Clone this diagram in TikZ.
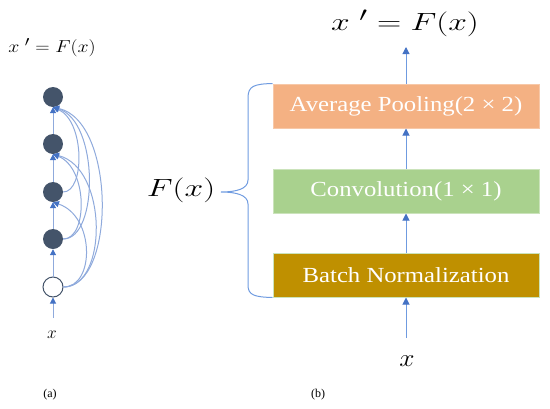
\documentclass[tikz,border=0pt]{standalone}
\usepackage{fontspec}
\setmainfont{Liberation Serif}
\newfontfamily\boxfont[FakeStretch=1.15]{Liberation Serif}
\usetikzlibrary{arrows.meta}
\definecolor{dnode}{HTML}{44546A}
\definecolor{lblue}{HTML}{8FAADC}
\definecolor{ablue}{HTML}{4472C4}
\definecolor{rblue}{HTML}{6F9BE0}
\definecolor{apool}{HTML}{F4B183}
\definecolor{conv}{HTML}{A9D18E}
\definecolor{bnorm}{HTML}{BF9000}
\tikzset{
  dense/.style={circle,minimum size=20pt,inner sep=0pt},
  filled/.style={dense,fill=dnode},
  hollow/.style={dense,draw=dnode,line width=1pt,fill=white},
  link/.style={draw=lblue,line width=1pt,-{Triangle[length=6pt,width=6pt,color=ablue]}},
  rlink/.style={draw=rblue,line width=1pt,-{Triangle[length=7pt,width=7pt,color=ablue]}},
  layer/.style={minimum width=266pt,minimum height=44pt,inner sep=0pt,text=white,font=\boxfont\fontsize{21.5}{24}\selectfont,line width=1pt},
}
\begin{document}
\begin{tikzpicture}[x=1pt,y=-1pt]
\useasboundingbox (0,0) rectangle (550,408);
% left: dense block
\node (lt) at (52,48) {\fontsize{19}{22}\selectfont\scalebox{1.15}[1]{$x\ {}' = F(x)$}};
\node[hollow] (n0) at (53,287) {};
\node[filled] (n1) at (53,239) {};
\node[filled] (n2) at (53,192) {};
\node[filled] (n3) at (53,144) {};
\node[filled] (n4) at (53,97) {};
\coordinate (lin) at (53,318);
\node (lx) at (52,335) {\fontsize{17}{20}\selectfont$x$};
\draw[link] (lin) -- (n0.south);
\draw[link] (n0.north) -- (n1.south);
\draw[link] (n1.north) -- (n2.south);
\draw[link] (n2.north) -- (n3.south);
\draw[link] (n3.north) -- (n4.south);
\draw[link] (n0.east) .. controls (116,287) and (116,121) .. (n4.south);
\draw[link] (n0.east) .. controls (108,287) and (108,168) .. (n3.south);
\draw[link] (n0.east) .. controls (95,287) and (95,216) .. (n2.south);
\draw[link] (n1.east) .. controls (99,239) and (99,121) .. (n4.south);
\draw[link] (n1.east) .. controls (88,239) and (88,168) .. (n3.south);
\draw[link] (n2.east) .. controls (85,192) and (85,121) .. (n4.south);
% right: transition layer
\node (rt) at (405,23) {\fontsize{28}{32}\selectfont\scalebox{1.35}[1]{$x\ {}' = F(x)$}};
\node[layer,fill=apool,draw=apool!70!white] (ap) at (406,106) {Average Pooling(2 × 2)};
\node[layer,fill=conv,draw=conv!60!white] (cv) at (406,191) {Convolution(1 × 1)};
\node[layer,fill=bnorm,draw=conv!60!white] (bn) at (406,275) {Batch Normalization};
\coordinate (rin) at (406,338);
\coordinate (rout) at (406,47);
\node (rx) at (407,361) {\fontsize{30}{32}\selectfont\scalebox{1.1}[1]{$x$}};
\draw[rlink] (rin) -- (bn.south);
\draw[rlink] (bn.north) -- (cv.south);
\draw[rlink] (cv.north) -- (ap.south);
\draw[rlink] (ap.north) -- (rout);
\draw[rblue,line width=1pt] (ap.north west) .. controls (254,84) and (248,86) .. (248,98)
  -- (248,180) .. controls (248,189) and (236,192) .. (221,192)
  .. controls (236,192) and (248,195) .. (248,204)
  -- (248,285) .. controls (248,295) and (254,297) .. (bn.south west);
\node (fx) at (181,190) {\fontsize{26}{30}\selectfont\scalebox{1.35}[1]{$F(x)$}};
% captions
\node (ca) at (50,395) {\fontsize{12}{14}\selectfont(a)};
\node (cb) at (318,395) {\fontsize{12}{14}\selectfont(b)};
\end{tikzpicture}
\end{document}
